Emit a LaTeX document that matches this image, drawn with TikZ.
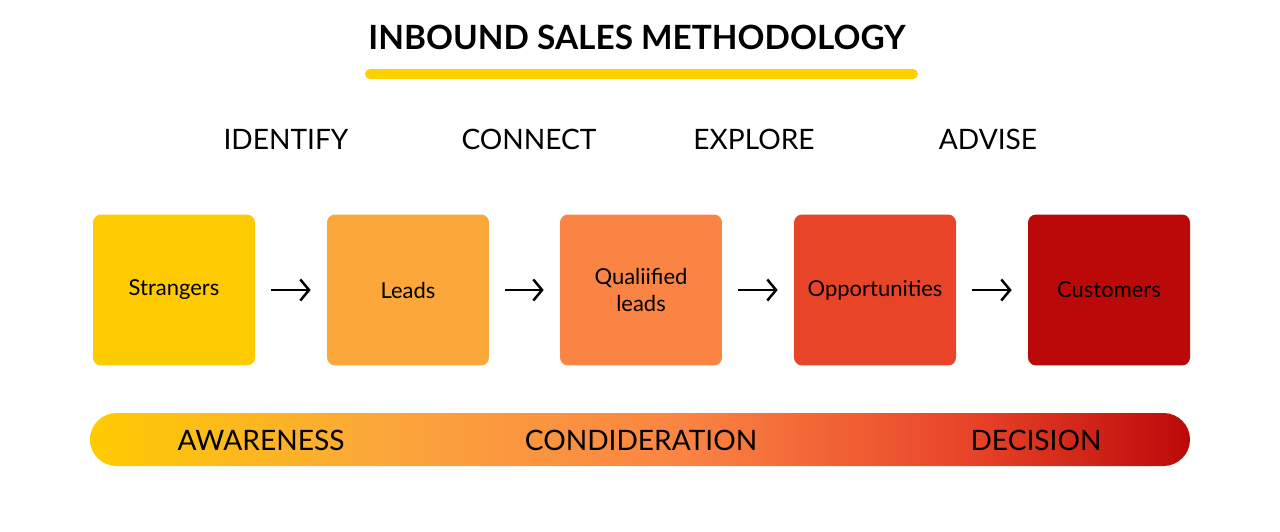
\documentclass[tikz,border=0pt]{standalone}
\usepackage{fontspec}
\setmainfont{Lato}
\usetikzlibrary{arrows.meta, positioning, shapes}

\definecolor{cstranger}{HTML}{FECB00}
\definecolor{clead}{HTML}{FBA73A}
\definecolor{cqual}{HTML}{FA8443}
\definecolor{copp}{HTML}{E84428}
\definecolor{ccust}{HTML}{BB0909}
\definecolor{cbar}{HTML}{FFD000}

\pgfdeclarehorizontalshading{funnelshade}{100bp}{color(0bp)=(cstranger); color(25bp)=(cstranger); color(38bp)=(clead); color(52bp)=(cqual); color(65bp)=(copp); color(75bp)=(ccust); color(100bp)=(ccust)}

\tikzset{
  stagebox/.style={rounded corners=0.16cm, minimum width=3.24cm, minimum height=3.02cm, align=center, font=\fontsize{12.5}{15}\selectfont, inner sep=2pt},
  steplabel/.style={font=\fontsize{16}{18}\selectfont},
  flowarrow/.style={-{Straight Barb[length=5pt,width=12pt]}, line width=1.4pt}
}

\begin{document}
\begin{tikzpicture}[x=0.02cm, y=-0.02cm]
      \useasboundingbox (0,0) rectangle (1280,531);

      % title
      \node[font=\fontsize{19}{22}\selectfont\bfseries] (title) at (637,37) {INBOUND SALES METHODOLOGY};
      \draw[cbar, line width=0.2cm, line cap=round] (370,74) -- (913,74);

      % steps
      \node[steplabel] (identify) at (286,139) {IDENTIFY};
      \node[steplabel] (connect) at (529,139) {CONNECT};
      \node[steplabel] (explore) at (754,139) {EXPLORE};
      \node[steplabel] (advise) at (988,139) {ADVISE};

      % stages
      \node[stagebox, fill=cstranger] (strangers) at (174,290) {Strangers};
      \node[stagebox, fill=clead] (leads) at (408,290) {Leads};
      \node[stagebox, fill=cqual] (qualified) at (641,290) {Qualiified\\leads};
      \node[stagebox, fill=copp] (opps) at (875,290) {Opportunities};
      \node[stagebox, fill=ccust] (customers) at (1109,290) {Customers};

      \foreach \a/\b in {strangers/leads, qualified/opps, leads/qualified, opps/customers}
        \draw[flowarrow] ([xshift=0.32cm]\a.east) -- ([xshift=-0.32cm]\b.west);

      % funnel bar
      \shade[shading=funnelshade, rounded corners=0.53cm] (90,413) rectangle (1190,466);
      \node[steplabel] (awareness) at (261,440) {AWARENESS};
      \node[steplabel] (consider) at (641,440) {CONDIDERATION};
      \node[steplabel] (decision) at (1036,440) {DECISION};
\end{tikzpicture}
\end{document}
